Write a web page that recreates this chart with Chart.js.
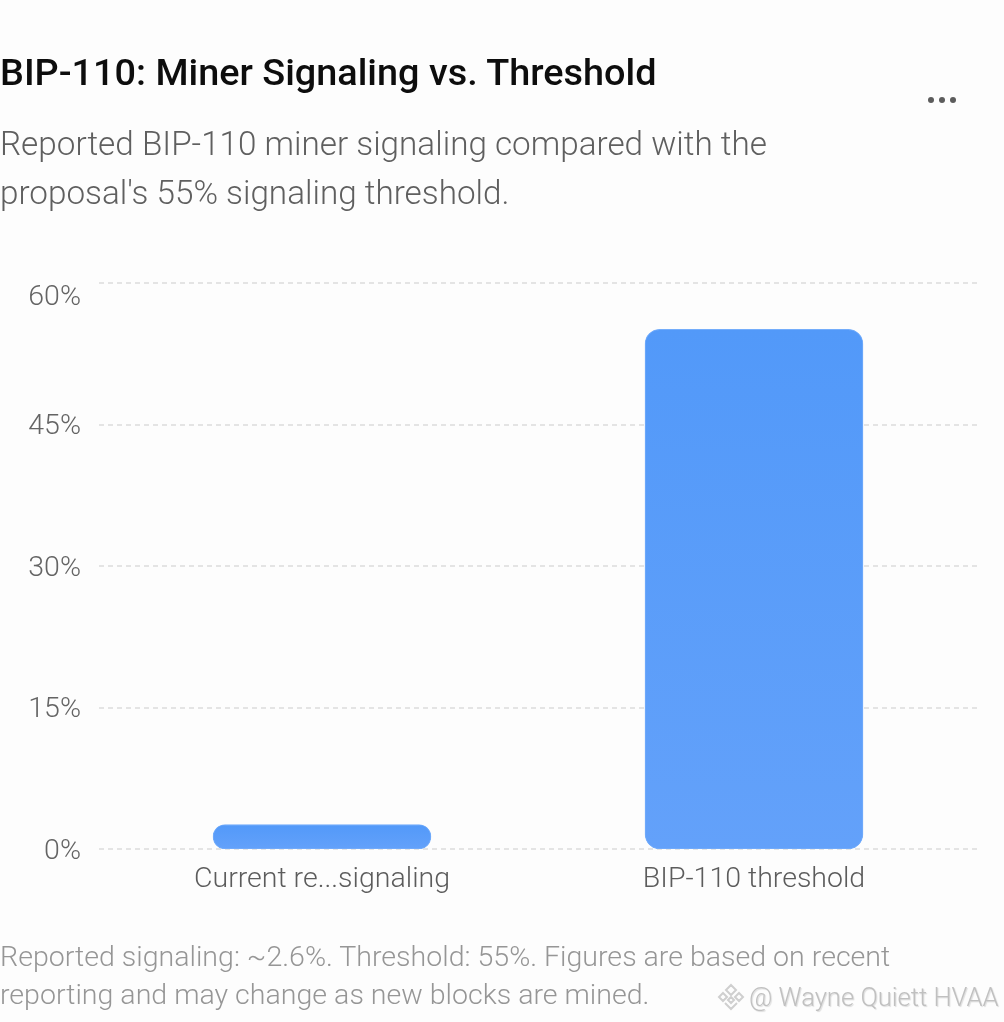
<!DOCTYPE html>
<html>
<head>
<meta charset="utf-8">
<script src="https://cdn.jsdelivr.net/npm/chart.js@4"></script>
<style>
  html, body { margin: 0; padding: 0; background: #fdfdfd; }
  body { width: 1004px; height: 1022px; position: relative; overflow: hidden; font-family: Roboto, sans-serif; }
  #grafica { position: absolute; left: 0; top: 0; }
  .txt { position: absolute; left: 0; white-space: nowrap; }
  #titulo { top: 49px; font-size: 37.85px; line-height: 46px; font-weight: 500; color: #0d0d0d; }
  #subtitulo { top: 120px; font-size: 33.25px; line-height: 48.5px; font-weight: 300; color: #5f5f5f; }
  #nota { top: 938px; font-size: 28.55px; line-height: 38px; font-weight: 300; color: #969696; }
  #puntos { position: absolute; left: 928px; top: 97px; display: flex; gap: 5px; }
  #puntos i { display: block; width: 6px; height: 6px; border-radius: 50%; background: #5c5c5c; }
  #marca { position: absolute; left: 716px; top: 982px; height: 30px; display: flex; align-items: center; gap: 3px;
           font-size: 25.6px; font-weight: 300; color: #c0c0c0; text-shadow: 1px 1px 1px #dcdcdc; white-space: nowrap; }
</style>
</head>
<body>
<canvas id="grafica" width="1004" height="1022"></canvas>
<div id="titulo" class="txt">BIP-110: Miner Signaling vs. Threshold</div>
<div id="subtitulo" class="txt">Reported BIP-110 miner signaling compared with the<br>proposal's 55% signaling threshold.</div>
<div id="puntos"><i></i><i></i><i></i></div>
<div id="nota" class="txt">Reported signaling: ~2.6%. Threshold: 55%. Figures are based on recent<br>reporting and may change as new blocks are mined.</div>
<div id="marca">
  <svg width="30" height="30" viewBox="0 0 30 30" fill="none" stroke="#cfcfcf" stroke-width="2">
    <path d="M15 3l5 5-5 5-5-5zM7 11l4 4-4 4-4-4zM23 11l4 4-4 4-4-4zM15 15l3 3-3 3-3-3zM9 21l6 6 6-6"/>
  </svg>
  <span>@ Wayne Quiett HVAA</span>
</div>
<script>
// Datos
const categorias = ["Current re...signaling", "BIP-110 threshold"];
const valores = [2.6, 55.1];
const ticksY = [0, 15, 30, 45, 60];

const fuente = { family: "Roboto", size: 28.5, weight: "300" };

// Gradiente de cada barra, de arriba hacia abajo
function colorBarra(ctx) {
  const y = ctx.chart.scales.y;
  if (!y || ctx.raw === undefined) return "#5599f9";
  const arriba = y.getPixelForValue(ctx.raw);
  const abajo = y.getPixelForValue(0);
  if (!Number.isFinite(arriba) || !Number.isFinite(abajo)) return "#5599f9";
  const g = ctx.chart.ctx.createLinearGradient(0, arriba, 0, abajo);
  g.addColorStop(0, "#5299f9");
  g.addColorStop(1, "#63a1fa");
  return g;
}

// Las líneas de la cuadrícula salen 7px a cada lado del área de la gráfica
const lineasGrid = {
  id: "lineasGrid",
  beforeDatasetsDraw(chart) {
    const { ctx, chartArea, scales } = chart;
    ctx.save();
    ctx.strokeStyle = "#e4e4e4";
    ctx.lineWidth = 2;
    ctx.setLineDash([5, 4]);
    for (const v of ticksY) {
      const py = Math.round(scales.y.getPixelForValue(v));
      ctx.beginPath();
      ctx.moveTo(chartArea.left - 7, py);
      ctx.lineTo(chartArea.right + 7, py);
      ctx.stroke();
    }
    ctx.restore();
  },
};

new Chart(document.getElementById("grafica"), {
  type: "bar",
  data: {
    labels: categorias,
    datasets: [
      {
        data: valores,
        backgroundColor: colorBarra,
        borderColor: "#74adfb",
        borderWidth: 1,
        borderRadius: 15,
        borderSkipped: false,
        barThickness: 218,
      },
    ],
  },
  options: {
    responsive: false,
    animation: false,
    devicePixelRatio: 1,
    layout: { padding: { top: 283, right: 34, bottom: 0, left: 0 } },
    plugins: { legend: { display: false }, tooltip: { enabled: false } },
    scales: {
      x: {
        grid: { display: false, drawTicks: false },
        border: { display: false },
        afterFit(scale) { scale.height = 173; },
        ticks: { color: "#5c5c5c", font: fuente, padding: 14, maxRotation: 0, autoSkip: false },
      },
      y: {
        min: 0,
        max: 60,
        afterBuildTicks(scale) { scale.ticks = ticksY.map((v) => ({ value: v })); },
        afterFit(scale) { scale.width = 106; },
        grid: { display: false, drawTicks: false },
        border: { display: false },
        ticks: {
          color: "#646464",
          font: { ...fuente, lineHeight: "24px" },
          padding: 25,
          labelOffset: 2.5,
          // La etiqueta de arriba va más abajo que su línea
          callback: (v) => (v === 60 ? ["", v + "%"] : v + "%"),
        },
      },
    },
  },
  plugins: [lineasGrid],
});
</script>
</body>
</html>
